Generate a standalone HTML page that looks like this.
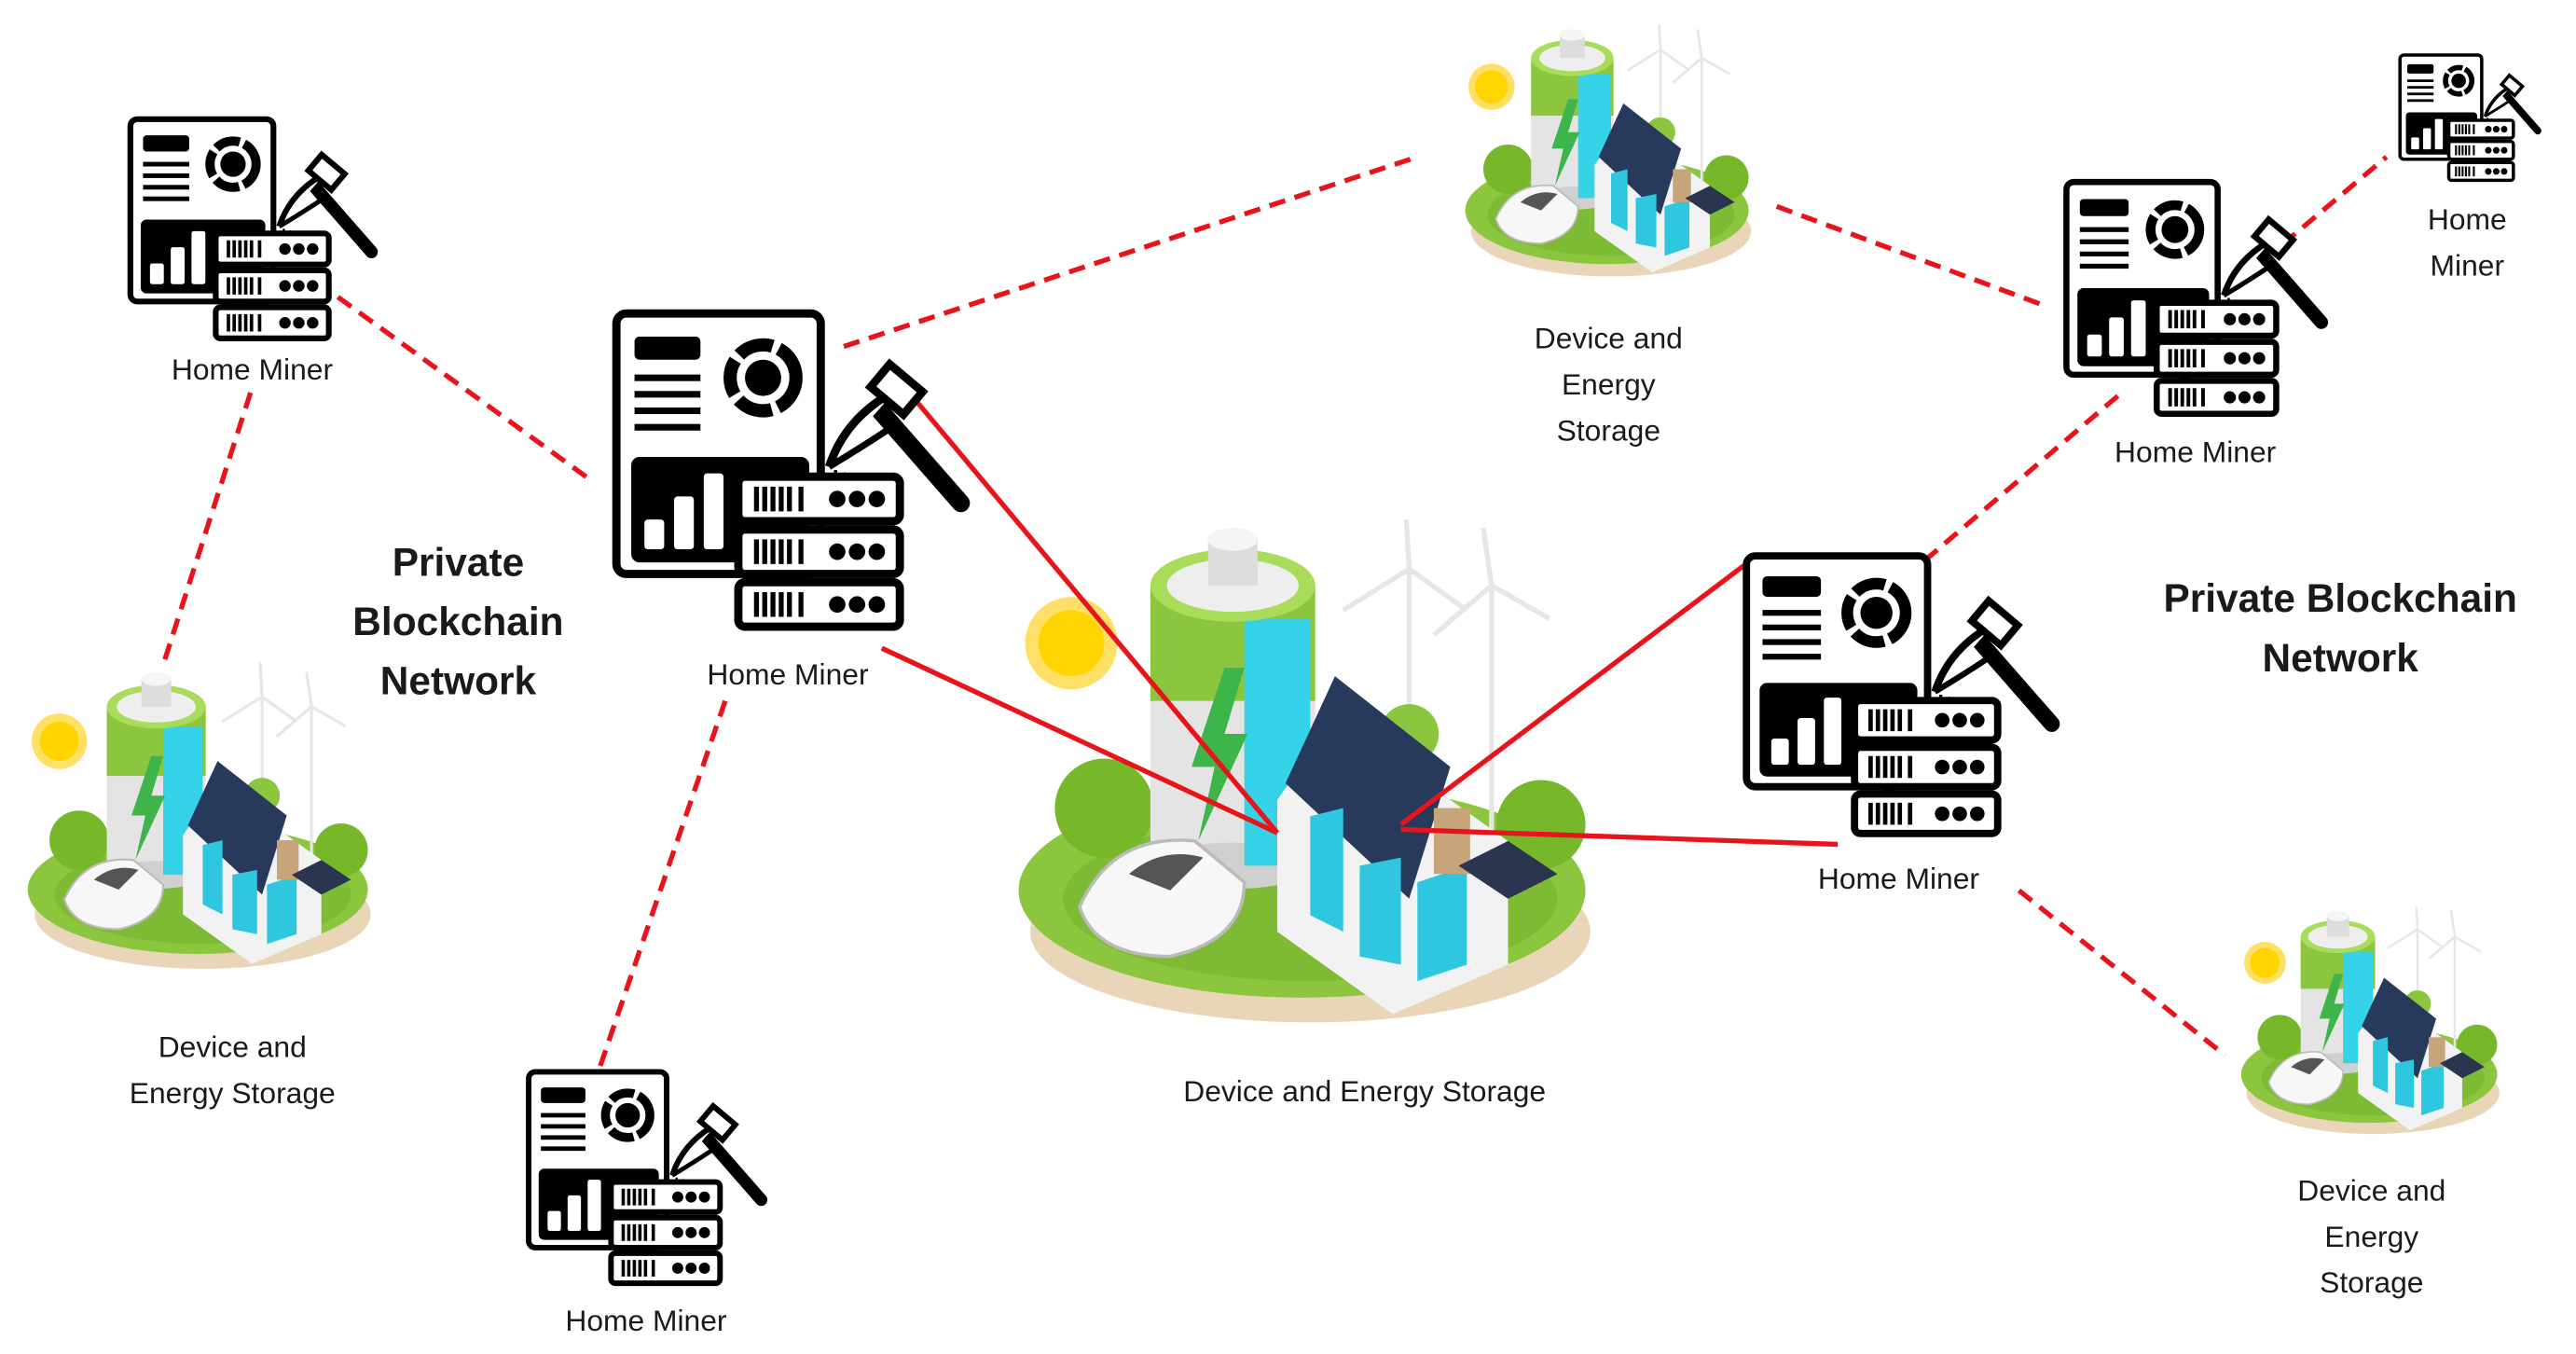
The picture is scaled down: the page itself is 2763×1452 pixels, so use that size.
<!DOCTYPE html>
<html><head><meta charset="utf-8"><style>
html,body{margin:0;padding:0;background:#fff;}
svg{display:block;}
text{font-family:"Liberation Sans",sans-serif;fill:#1a1a1a;}
</style></head><body>
<svg width="2763" height="1452" viewBox="0 0 1563 821" xmlns="http://www.w3.org/2000/svg">
<defs>
<symbol id="miner" viewBox="0 0 220 200">
  <rect x="3" y="3" width="124" height="158" rx="6" fill="#fff" stroke="#000" stroke-width="5"/>
  <rect x="14" y="17" width="40" height="14" rx="3" fill="#000"/>
  <rect x="14" y="40" width="40" height="4" fill="#000"/>
  <rect x="14" y="50" width="40" height="4" fill="#000"/>
  <rect x="14" y="60" width="40" height="4" fill="#000"/>
  <rect x="14" y="70" width="40" height="4" fill="#000"/>
  <circle cx="92" cy="42" r="20" fill="none" stroke="#000" stroke-width="8" stroke-dasharray="22 4"/>
  <circle cx="92" cy="42" r="11" fill="#000"/>
  <rect x="12" y="90" width="108" height="64" rx="5" fill="#000"/>
  <rect x="20" y="128" width="12" height="18" rx="2" fill="#fff"/>
  <rect x="38" y="114" width="12" height="32" rx="2" fill="#fff"/>
  <rect x="56" y="100" width="12" height="46" rx="2" fill="#fff"/>
  <rect x="96" y="122" width="8" height="10" fill="#000"/>
  <rect x="96" y="155" width="8" height="10" fill="#000"/>
  <g id="unit">
    <rect x="77" y="102" width="98" height="27" rx="4" fill="#fff" stroke="#000" stroke-width="5"/>
    <path d="M88 108v15M93 108v15M98 108v15M103 108v15M108 108v15M115 108v15" stroke="#000" stroke-width="3"/>
    <circle cx="137" cy="115.5" r="5" fill="#000"/><circle cx="149" cy="115.5" r="5" fill="#000"/><circle cx="161" cy="115.5" r="5" fill="#000"/>
  </g>
  <use href="#unit" y="32"/>
  <use href="#unit" y="64"/>
  <line x1="163" y1="62" x2="212" y2="118" stroke="#000" stroke-width="11" stroke-linecap="round"/>
  <path d="M132 96 Q142 66 172 50" fill="#fff" stroke="#000" stroke-width="5"/>
  <path d="M132 96 Q152 84 170 72" fill="none" stroke="#000" stroke-width="4"/>
  <rect x="160" y="40" width="26" height="18" transform="rotate(40 173 49)" fill="#fff" stroke="#000" stroke-width="5"/>
  <path d="M141 100l6 3M136 98v4" stroke="#000" stroke-width="2"/>
</symbol>
<symbol id="house" viewBox="0 0 350 310">
  <ellipse cx="180" cy="250" rx="170" ry="55" fill="#e9d6b8"/>
  <ellipse cx="175" cy="225" rx="172" ry="65" fill="#8cc63f"/>
  <ellipse cx="180" cy="230" rx="150" ry="50" fill="#7dbb35"/>
  <circle cx="35" cy="75" r="28" fill="#ffe066"/><circle cx="35" cy="75" r="20" fill="#ffd400"/>
  <g stroke="#e6e6e6" stroke-width="3" fill="none">
    <line x1="240" y1="30" x2="240" y2="200"/><line x1="240" y1="30" x2="200" y2="55"/><line x1="240" y1="30" x2="275" y2="55"/><line x1="240" y1="30" x2="238" y2="-5"/>
    <line x1="290" y1="40" x2="290" y2="200"/><line x1="290" y1="40" x2="255" y2="70"/><line x1="290" y1="40" x2="325" y2="60"/><line x1="290" y1="40" x2="285" y2="5"/>
  </g>
  <circle cx="55" cy="175" r="30" fill="#76b82a"/>
  <circle cx="320" cy="185" r="27" fill="#76b82a"/>
  <circle cx="240" cy="130" r="18" fill="#8cc63f"/>
  <rect x="83" y="40" width="100" height="170" fill="#e4e4e4"/>
  <ellipse cx="133" cy="210" rx="50" ry="14" fill="#d0d0d0"/>
  <rect x="83" y="40" width="100" height="70" fill="#8cc63f"/>
  <rect x="140" y="60" width="40" height="150" fill="#35d2e8"/>
  <ellipse cx="133" cy="40" rx="50" ry="22" fill="#a8dc5a"/>
  <ellipse cx="133" cy="40" rx="40" ry="16" fill="#eee"/>
  <rect x="118" y="12" width="30" height="28" fill="#ddd"/><ellipse cx="133" cy="12" rx="15" ry="7" fill="#f5f5f5"/>
  <path d="M128 90 L108 150 L122 150 L112 195 L142 130 L128 130 L140 90Z" fill="#3db54a"/>
  <path d="M160 170 L195 120 L300 195 L300 270 L230 300 L160 250Z" fill="#f2f2f2"/>
  <path d="M165 160 L195 95 L265 150 L240 230Z" fill="#283a5c"/>
  <path d="M180 180 L200 175 L200 250 L180 240Z M210 210 L235 205 L235 270 L210 265Z M245 220 L275 210 L275 270 L245 280Z" fill="#2fc6df"/>
  <rect x="255" y="175" width="22" height="40" fill="#c8a47a"/>
  <path d="M270 210 L300 195 L330 215 L300 230Z" fill="#2b3550"/>
  <path d="M40 235 Q60 190 110 195 L140 220 Q140 255 95 265 Q50 265 40 235Z" fill="#f7f7f7" stroke="#bbb" stroke-width="2"/>
  <path d="M70 215 Q90 198 115 205 L95 225Z" fill="#555"/>
</symbol>
</defs>

<g stroke="#e8141b" stroke-width="3" fill="none" stroke-dasharray="10 6">
  <line x1="205" y1="180" x2="357" y2="290"/>
  <line x1="152" y1="238" x2="100" y2="400"/>
  <line x1="440" y1="425" x2="363" y2="650"/>
  <line x1="512" y1="210" x2="860" y2="95"/>
  <line x1="1078" y1="125" x2="1240" y2="185"/>
  <line x1="1385" y1="148" x2="1448" y2="95"/>
  <line x1="1285" y1="240" x2="1170" y2="338"/>
  <line x1="1225" y1="540" x2="1350" y2="640"/>
</g>

<use href="#house" x="615" y="315" width="350" height="310"/>
<use href="#house" x="865" y="15" width="220" height="155"/>
<use href="#house" x="15" y="395" width="210" height="205"/>
<use href="#house" x="1340" y="550" width="195" height="140"/>

<g stroke="#e8141b" stroke-width="3" fill="none">
  <line x1="545" y1="230" x2="775" y2="505"/>
  <line x1="535" y1="393" x2="775" y2="505"/>
  <line x1="1058" y1="343" x2="850" y2="500"/>
  <line x1="1115" y1="512" x2="850" y2="503"/>
</g>

<use href="#miner" x="70" y="70" width="168" height="140"/>
<use href="#miner" x="370" y="187" width="222" height="200"/>
<use href="#miner" x="309" y="648" width="168" height="135"/>
<use href="#miner" x="1057" y="334" width="195" height="178"/>
<use href="#miner" x="1247" y="108" width="172" height="148"/>
<use href="#miner" x="1443" y="32" width="112" height="80"/>

<g font-size="18" text-anchor="middle">
  <text x="153" y="230">Home Miner</text>
  <text x="478" y="415">Home Miner</text>
  <text x="392" y="807">Home Miner</text>
  <text x="1152" y="539">Home Miner</text>
  <text x="1332" y="280">Home Miner</text>
  <text x="1497" y="139">Home</text>
  <text x="1497" y="167">Miner</text>
  <text x="828" y="668">Device and Energy Storage</text>
  <text x="976" y="211">Device and</text>
  <text x="976" y="239">Energy</text>
  <text x="976" y="267">Storage</text>
  <text x="141" y="641">Device and</text>
  <text x="141" y="669">Energy Storage</text>
  <text x="1439" y="728">Device and</text>
  <text x="1439" y="756">Energy</text>
  <text x="1439" y="784">Storage</text>
</g>
<g font-size="24" font-weight="bold" text-anchor="middle">
  <text x="278" y="349">Private</text>
  <text x="278" y="385">Blockchain</text>
  <text x="278" y="421">Network</text>
  <text x="1420" y="371">Private Blockchain</text>
  <text x="1420" y="407">Network</text>
</g>
</svg>
</body></html>
